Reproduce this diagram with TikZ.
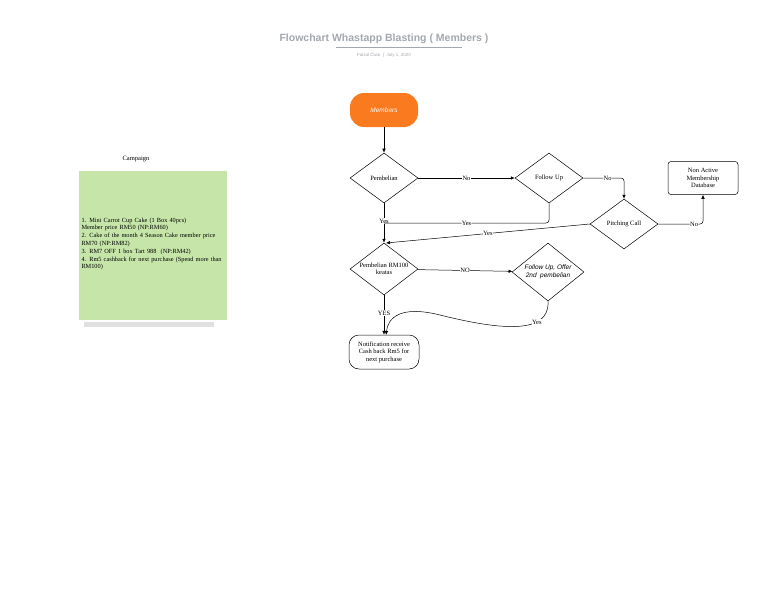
\documentclass[tikz,border=0pt]{standalone}
\usepackage{fontspec}
\setmainfont{Liberation Serif}
\newfontfamily\sansf{Liberation Sans}
\usetikzlibrary{shapes.geometric,arrows.meta}
\definecolor{orng}{HTML}{F97A1F}
\definecolor{grn}{HTML}{C6E6A9}
\definecolor{ttl}{HTML}{A3A7AE}
\begin{document}
\begin{tikzpicture}[x=1pt,y=-1pt,
  every node/.style={font=\fontsize{6.5}{7.5}\selectfont},
  dia/.style={diamond,draw,aspect=1.35,minimum width=68pt,minimum height=50pt,inner sep=0pt,align=center,line width=0.5pt},
  arr/.style={draw,line width=0.5pt,-{Latex[length=4pt,width=3.5pt]}},
  lbl/.style={fill=white,inner sep=0.5pt,font=\fontsize{6.5}{7}\selectfont}]
\useasboundingbox (0,0) rectangle (768,594);
\node[font=\sansf\bfseries\fontsize{10.5}{12}\selectfont,text=ttl] (title) at (384,39) {Flowchart Whastapp Blasting ( Members )};
\draw[ttl,line width=0.8pt] (336,47) -- (462,47);
\node[font=\sansf\fontsize{4.5}{5}\selectfont,text=ttl] (sub) at (384,55) {Faizal Ciwo \ | \ July 1, 2020};
% campaign
\node (camp) at (136,159) {Campaign};
\fill[gray!40,opacity=0.6] (84,322) rectangle (214,327);
\node[fill=grn,minimum width=148pt,minimum height=149pt,inner sep=0pt] (green) at (153,245.5) {};
\node[align=left,text width=145pt,font=\fontsize{6.3}{7.8}\selectfont] (ctext) at (154,244) {1. Mini Carrot Cup Cake (1 Box 40pcs)\\Member price RM50 (NP:RM60)\\2. Cake of the month 4 Season Cake member price RM70 (NP:RM82)\\3. RM7 OFF 1 box Tart 988\ \ (NP:RM42)\\4. Rm5 cashback for next purchase (Spend more than RM100)};
% nodes
\node[fill=orng,rounded corners=14pt,minimum width=68pt,minimum height=34pt,text=white,font=\sansf\itshape\fontsize{6.5}{7.5}\selectfont] (mem) at (384,110) {Members};
\node[dia] (pem) at (384,178) {Pembelian};
\node[dia] (fu) at (549,178) {Follow Up};
\node[dia] (pc) at (624,224) {Pitching Call};
\node[draw,rounded corners=3pt,minimum width=70pt,minimum height=33pt,align=center,line width=0.5pt] (na) at (703,178) {Non Active\\Membership\\Database};
\node[dia,minimum height=52pt] (rm) at (384,269) {Pembelian RM100\\keatas};
\node[dia,minimum width=72pt,minimum height=58pt,font=\sansf\itshape\fontsize{6.5}{7.5}\selectfont] (fo) at (548,272) {Follow Up, Offer\\2nd\ \ pembelian};
\node[draw,rounded corners=10pt,minimum width=70pt,minimum height=34pt,align=center,line width=0.5pt] (nt) at (384,352) {Notification receive\\Cash back Rm5 for\\next purchase};
% edges
\draw[arr] (mem) -- (pem);
\draw[arr] (pem) -- node[lbl]{No} (fu);
\draw[arr,rounded corners=3pt] (fu.east) -- node[lbl,pos=0.6]{No} (624,178) -- (pc.north);
\draw[arr] (pem) -- node[lbl,pos=0.45]{Yes} (rm);
\draw[line width=0.5pt,rounded corners=3pt] (fu.south) -- (549,223) -- node[lbl]{Yes} (384,223);
\draw[arr] (pc.west) -- node[lbl,pos=0.5]{Yes} (386,243);
\draw[arr,rounded corners=3pt] (pc.east) -- node[lbl,pos=0.8]{No} (703,224) -- (na.south);
\draw[arr] (rm) -- node[lbl]{NO} (fo);
\draw[arr] (rm) -- node[lbl,pos=0.45]{YES} (nt);
\draw[arr] (fo.south) .. controls (550,335) and (500,330) .. node[lbl,pos=0.3]{Yes} (440,315) .. controls (400,305) and (388,318) .. (386,335);
\end{tikzpicture}
\end{document}
